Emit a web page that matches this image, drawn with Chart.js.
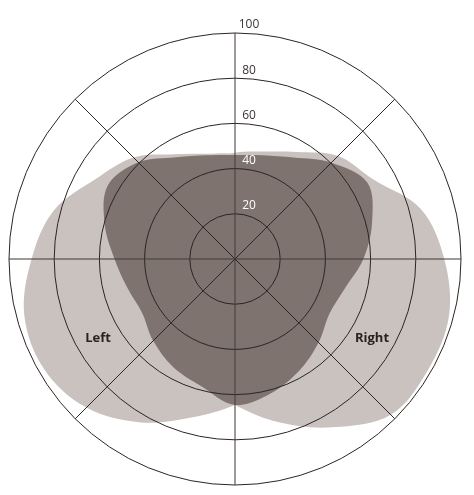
<!DOCTYPE html>
<html>
<head>
<meta charset="utf-8">
<script src="https://cdn.jsdelivr.net/npm/chart.js@4.4.1/dist/chart.umd.min.js"></script>
<style>
html,body{margin:0;padding:0;background:#ffffff;}
canvas{display:block;}
</style>
</head>
<body>
<canvas id="c" width="474" height="495"></canvas>
<script>
// Angles (degrees, clockwise from top) of the sampled directions
const angles = [0,15,30,45,60,75,90,105,120,135,150,165,180,195,210,225,240,255,270,285,300,315,330,345];
// Radial tick values
const tickValues = [20,40,60,80,100];
// Left-eye field extent (outer part on the left; right-half values lie under the other fields)
const leftField  = [46.5,45,40,40,40,40,40,40,40,40,40,58,64.6,72.5,83.5,93,97.5,96.5,90,83,71,63.5,53.5,48.2];
// Right-eye field extent
const rightField = [47,49.2,54.7,64.5,70.5,85.2,92.6,98,98.5,97.5,86,74.8,64.6,57,40,40,40,40,40,40,40,40,40,45];
// Binocular (overlap) field
const bothEyes   = [46,47.5,51.8,60.3,67.6,62.8,56.8,50.3,48.3,52.3,57,61.5,64.6,58.2,55,51.2,47.5,49.3,53.3,59.7,65,60.5,52,47.5];
const fieldNames = ['Left','Right'];

const LIGHT = '#c9c2bf';
const DARK  = '#7e736e';

const annot = {
  id: 'annot',
  afterDraw(chart) {
    const s = chart.scales.r;
    const ctx = chart.ctx;
    ctx.save();
    ctx.textAlign = 'center';
    ctx.textBaseline = 'middle';
    ctx.font = '12px "Open Sans"';
    tickValues.forEach(v => {
      const d = s.getDistanceFromCenterForValue(v);
      ctx.fillStyle = v <= 40 ? '#ffffff' : '#3a3534';
      ctx.fillText(String(v), s.xCenter + 14, s.yCenter - d - 8);
    });
    ctx.font = 'bold 13px "Open Sans"';
    ctx.fillStyle = '#2a2221';
    const iL = angles.indexOf(240), iR = angles.indexOf(120);
    const pl = s.getPointPositionForValue(iL, 70);
    const pr = s.getPointPositionForValue(iR, 70);
    ctx.fillText(fieldNames[0], pl.x, pl.y);
    ctx.fillText(fieldNames[1], pr.x, pr.y);
    ctx.restore();
  }
};

new Chart(document.getElementById('c'), {
  type: 'radar',
  data: {
    labels: angles.map(a => a + '°'),
    datasets: [
      { label: 'Both', data: bothEyes, order: 0, fill: true, backgroundColor: DARK, borderWidth: 0, pointRadius: 0, tension: 0.35 },
      { label: fieldNames[0], data: leftField, order: 1, fill: true, backgroundColor: LIGHT, borderWidth: 0, pointRadius: 0, tension: 0.35 },
      { label: fieldNames[1], data: rightField, order: 2, fill: true, backgroundColor: LIGHT, borderWidth: 0, pointRadius: 0, tension: 0.35 }
    ]
  },
  options: {
    responsive: false,
    animation: false,
    layout: { padding: { top: 33, bottom: 10, left: 0, right: 3 } },
    plugins: { legend: { display: false }, tooltip: { enabled: false } },
    scales: {
      r: {
        min: 0, max: 100,
        ticks: { display: false, stepSize: 20 },
        pointLabels: { display: false },
        grid: { circular: true, color: '#2b2523', lineWidth: 1, z: 1 },
        angleLines: {
          display: true,
          color: ctx => (ctx.index % 6 === 0 ? 'rgba(70,62,58,0.7)' : '#2b2523'),
          lineWidth: ctx => (ctx.index % 3 === 0 ? (ctx.index % 6 === 0 ? 1.5 : 1) : 0)
        }
      }
    }
  },
  plugins: [annot]
});
</script>
</body>
</html>
